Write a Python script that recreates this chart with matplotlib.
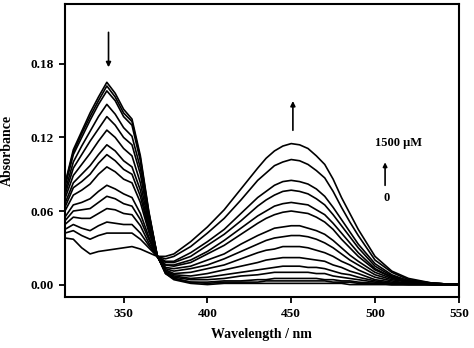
import numpy as np
import matplotlib
matplotlib.use("Agg")
import matplotlib.pyplot as plt

plt.rcParams['font.family'] = ['Liberation Serif', 'DejaVu Serif']
plt.rcParams['font.weight'] = 'bold'

# wavelength grid (nm)
wavelength = [315, 320, 325, 330, 335, 340, 345, 350, 355, 360, 365, 370,
              375, 380, 390, 400, 410, 420, 430, 435, 440, 445, 450, 455,
              460, 465, 470, 475, 480, 485, 490, 500, 510, 520, 535, 550]

# absorbance spectra, 0 -> 1500 uM
spectra = [
    [0.082, 0.110, 0.125, 0.140, 0.153, 0.165, 0.156, 0.143, 0.135, 0.105, 0.060, 0.024,
     0.009, 0.004, 0.001, 0.000, 0.001, 0.001, 0.001, 0.001, 0.001, 0.001, 0.001, 0.001,
     0.001, 0.001, 0.001, 0.001, 0.001, 0.000, 0.000, 0.000, 0.000, 0.000, 0.000, 0.000],
    [0.081, 0.108, 0.123, 0.137, 0.150, 0.162, 0.153, 0.140, 0.133, 0.103, 0.059, 0.024,
     0.009, 0.005, 0.002, 0.001, 0.002, 0.002, 0.002, 0.003, 0.003, 0.003, 0.003, 0.003,
     0.003, 0.003, 0.003, 0.002, 0.002, 0.002, 0.001, 0.001, 0.000, 0.000, 0.000, 0.000],
    [0.080, 0.106, 0.120, 0.134, 0.147, 0.158, 0.150, 0.137, 0.130, 0.101, 0.058, 0.024,
     0.010, 0.005, 0.002, 0.002, 0.003, 0.003, 0.004, 0.004, 0.005, 0.005, 0.005, 0.005,
     0.005, 0.005, 0.004, 0.004, 0.003, 0.003, 0.002, 0.001, 0.000, 0.000, 0.000, 0.000],
    [0.076, 0.100, 0.113, 0.125, 0.137, 0.147, 0.139, 0.128, 0.121, 0.095, 0.056, 0.024,
     0.010, 0.006, 0.004, 0.004, 0.005, 0.007, 0.008, 0.009, 0.010, 0.010, 0.010, 0.010,
     0.010, 0.009, 0.009, 0.007, 0.006, 0.005, 0.004, 0.002, 0.001, 0.000, 0.000, 0.000],
    [0.073, 0.095, 0.106, 0.117, 0.127, 0.137, 0.130, 0.120, 0.114, 0.090, 0.053, 0.024,
     0.010, 0.007, 0.005, 0.006, 0.008, 0.010, 0.012, 0.013, 0.014, 0.015, 0.015, 0.015,
     0.014, 0.014, 0.013, 0.011, 0.009, 0.008, 0.006, 0.003, 0.001, 0.001, 0.000, 0.000],
    [0.070, 0.089, 0.098, 0.107, 0.117, 0.126, 0.120, 0.111, 0.105, 0.083, 0.050, 0.023,
     0.011, 0.008, 0.007, 0.009, 0.012, 0.015, 0.018, 0.020, 0.021, 0.022, 0.022, 0.022,
     0.021, 0.020, 0.019, 0.016, 0.014, 0.011, 0.009, 0.004, 0.002, 0.001, 0.000, 0.000],
    [0.066, 0.083, 0.090, 0.097, 0.106, 0.114, 0.109, 0.101, 0.096, 0.077, 0.047, 0.023,
     0.012, 0.009, 0.010, 0.013, 0.016, 0.021, 0.026, 0.028, 0.029, 0.031, 0.031, 0.031,
     0.030, 0.028, 0.026, 0.023, 0.019, 0.016, 0.012, 0.006, 0.003, 0.001, 0.000, 0.000],
    [0.063, 0.079, 0.084, 0.090, 0.099, 0.106, 0.101, 0.094, 0.090, 0.072, 0.045, 0.023,
     0.013, 0.011, 0.013, 0.016, 0.021, 0.027, 0.033, 0.036, 0.038, 0.039, 0.040, 0.040,
     0.039, 0.037, 0.034, 0.030, 0.025, 0.020, 0.016, 0.008, 0.004, 0.002, 0.000, 0.000],
    [0.060, 0.073, 0.077, 0.082, 0.090, 0.096, 0.092, 0.086, 0.083, 0.067, 0.043, 0.023,
     0.014, 0.013, 0.015, 0.020, 0.025, 0.033, 0.040, 0.043, 0.046, 0.047, 0.048, 0.048,
     0.046, 0.044, 0.041, 0.036, 0.030, 0.024, 0.019, 0.010, 0.005, 0.002, 0.001, 0.000],
    [0.055, 0.065, 0.067, 0.070, 0.076, 0.081, 0.078, 0.074, 0.071, 0.058, 0.039, 0.023,
     0.016, 0.015, 0.018, 0.025, 0.032, 0.041, 0.050, 0.054, 0.057, 0.059, 0.060, 0.059,
     0.058, 0.055, 0.051, 0.045, 0.037, 0.030, 0.023, 0.012, 0.006, 0.002, 0.001, 0.000],
    [0.052, 0.060, 0.061, 0.062, 0.067, 0.072, 0.070, 0.066, 0.064, 0.053, 0.037, 0.023,
     0.016, 0.016, 0.020, 0.027, 0.036, 0.046, 0.056, 0.060, 0.064, 0.066, 0.067, 0.066,
     0.065, 0.061, 0.057, 0.050, 0.042, 0.034, 0.026, 0.013, 0.006, 0.003, 0.001, 0.000],
    [0.049, 0.055, 0.054, 0.054, 0.058, 0.062, 0.061, 0.058, 0.057, 0.048, 0.034, 0.023,
     0.018, 0.018, 0.023, 0.032, 0.041, 0.052, 0.064, 0.069, 0.073, 0.076, 0.077, 0.076,
     0.074, 0.070, 0.065, 0.057, 0.048, 0.039, 0.030, 0.015, 0.007, 0.003, 0.001, 0.000],
    [0.045, 0.049, 0.046, 0.044, 0.048, 0.051, 0.050, 0.049, 0.049, 0.042, 0.032, 0.023,
     0.019, 0.019, 0.026, 0.035, 0.045, 0.058, 0.071, 0.076, 0.081, 0.084, 0.085, 0.084,
     0.082, 0.078, 0.072, 0.063, 0.053, 0.043, 0.033, 0.017, 0.008, 0.003, 0.001, 0.000],
    [0.042, 0.044, 0.040, 0.037, 0.040, 0.042, 0.042, 0.042, 0.042, 0.037, 0.030, 0.023,
     0.021, 0.023, 0.031, 0.042, 0.054, 0.069, 0.085, 0.091, 0.097, 0.100, 0.102, 0.101,
     0.098, 0.093, 0.087, 0.076, 0.063, 0.051, 0.040, 0.020, 0.010, 0.004, 0.001, 0.000],
    [0.038, 0.037, 0.030, 0.025, 0.027, 0.028, 0.029, 0.030, 0.031, 0.029, 0.026, 0.023,
     0.023, 0.025, 0.035, 0.047, 0.061, 0.078, 0.095, 0.103, 0.109, 0.113, 0.115, 0.114,
     0.111, 0.105, 0.098, 0.086, 0.071, 0.058, 0.045, 0.023, 0.011, 0.005, 0.001, 0.000],
]

xticks = [350, 400, 450, 500, 550]
yticks = [0.00, 0.06, 0.12, 0.18]

fig = plt.figure(figsize=(4.74, 3.48), dpi=100)
ax = fig.add_axes([0.137, 0.147, 0.831, 0.842])

for s in spectra:
    ax.plot(wavelength, s, color='black', lw=1.2)

ax.set_xlim(315, 550)
ax.set_ylim(-0.010, 0.229)
ax.set_xticks(xticks)
ax.set_yticks(yticks)
ax.set_yticklabels([f'{v:.2f}' for v in yticks])
ax.tick_params(direction='out', length=4.5, width=1.3, labelsize=9.5, top=False, right=False)
for sp in ax.spines.values():
    sp.set_linewidth(1.5)

ax.set_xlabel('Wavelength / nm', fontsize=10, fontweight='bold', labelpad=6)
ax.set_ylabel('Absorbance', fontsize=10, fontweight='bold', labelpad=12)

# arrows showing the change with concentration
ax.annotate('', xy=(341, 0.175), xytext=(341, 0.208),
            arrowprops=dict(arrowstyle='-|>', color='black', lw=1.2, mutation_scale=7))
ax.annotate('', xy=(451, 0.152), xytext=(451, 0.1236),
            arrowprops=dict(arrowstyle='-|>', color='black', lw=1.2, mutation_scale=7))
ax.annotate('', xy=(506, 0.102), xytext=(506, 0.0787),
            arrowprops=dict(arrowstyle='-|>', color='black', lw=1.2, mutation_scale=6))
ax.text(514, 0.1157, '1500 \u03bcM', ha='center', va='center', fontsize=9, fontweight='bold')
ax.text(507, 0.0705, '0', ha='center', va='center', fontsize=9, fontweight='bold')

fig.savefig('out.png', dpi=100)
